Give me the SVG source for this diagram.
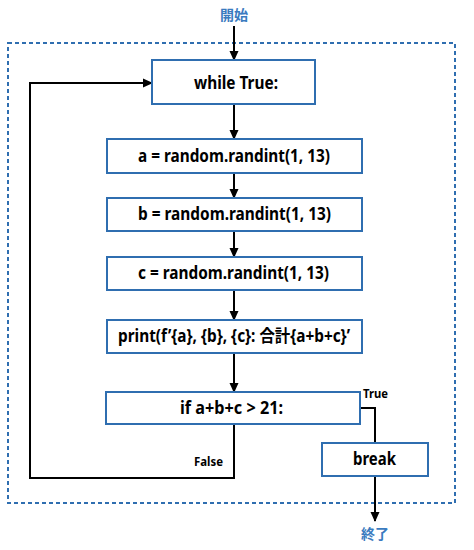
<svg xmlns="http://www.w3.org/2000/svg" width="474" height="550" viewBox="0 0 474 550">
<defs>
<marker id="ah" markerWidth="10" markerHeight="10" refX="9" refY="5" orient="auto" markerUnits="userSpaceOnUse">
<path d="M0,0.5 L10,5 L0,9.5 Z" fill="#000"/>
</marker>
<style>
.box{fill:#fff;stroke:#2f6eb0;stroke-width:2}
.t{font-family:"Noto Sans","Noto Sans CJK JP",sans-serif;font-weight:bold;font-size:17px;fill:#000;text-anchor:middle}
.s{font-family:"Noto Sans","Noto Sans CJK JP",sans-serif;font-weight:bold;font-size:12px;fill:#000}
.lab{font-family:"Noto Sans CJK JP",sans-serif;font-weight:bold;font-size:14px;fill:#3a7bbf;text-anchor:middle}
.ln{fill:none;stroke:#000;stroke-width:2}
</style>
</defs>
<rect x="8" y="43" width="447" height="460" fill="none" stroke="#2f6eb0" stroke-width="2" stroke-dasharray="4 3"/>
<g id="connectors">
<line class="ln" x1="234" y1="26" x2="234" y2="60" marker-end="url(#ah)"/>
<line class="ln" x1="234" y1="104" x2="234" y2="139" marker-end="url(#ah)"/>
<line class="ln" x1="234" y1="173" x2="234" y2="198" marker-end="url(#ah)"/>
<line class="ln" x1="234" y1="231" x2="234" y2="257" marker-end="url(#ah)"/>
<line class="ln" x1="234" y1="290" x2="234" y2="320" marker-end="url(#ah)"/>
<line class="ln" x1="234" y1="353" x2="234" y2="392" marker-end="url(#ah)"/>
<polyline class="ln" points="234,424 234,478 30,478 30,83 152,83" marker-end="url(#ah)"/>
<polyline class="ln" points="360,408 375,408 375,443"/>
<line class="ln" x1="375" y1="476" x2="375" y2="521" marker-end="url(#ah)"/>
<text class="s" x="363" y="398" textLength="25" lengthAdjust="spacingAndGlyphs">True</text>
<text class="s" x="194" y="466" textLength="29" lengthAdjust="spacingAndGlyphs">False</text>
</g>
<g id="start"><text class="lab" x="234" y="20">開始</text></g>
<g id="while"><rect class="box" x="152" y="60" width="163" height="44"/><text class="t" x="236" y="89" textLength="84" lengthAdjust="spacingAndGlyphs">while True:</text></g>
<g id="a"><rect class="box" x="107" y="139" width="255" height="34"/><text class="t" x="234" y="162" textLength="192" lengthAdjust="spacingAndGlyphs">a = random.randint(1, 13)</text></g>
<g id="b"><rect class="box" x="107" y="198" width="255" height="33"/><text class="t" x="234.5" y="220" textLength="193" lengthAdjust="spacingAndGlyphs">b = random.randint(1, 13)</text></g>
<g id="c"><rect class="box" x="107" y="257" width="255" height="33"/><text class="t" x="233.5" y="279" textLength="191" lengthAdjust="spacingAndGlyphs">c = random.randint(1, 13)</text></g>
<g id="print"><rect class="box" x="107" y="320" width="255" height="33"/><text class="t" x="234" y="342" textLength="232" lengthAdjust="spacingAndGlyphs">print(f’{a}, {b}, {c}: 合計{a+b+c}’</text></g>
<g id="if"><rect class="box" x="106" y="392" width="254" height="32"/><text class="t" x="231.5" y="414" textLength="103" lengthAdjust="spacingAndGlyphs">if a+b+c &gt; 21:</text></g>
<g id="break"><rect class="box" x="322" y="443" width="106" height="33"/><text class="t" x="374.5" y="465" textLength="43" lengthAdjust="spacingAndGlyphs">break</text></g>
<g id="end"><text class="lab" x="375" y="539">終了</text></g>
</svg>
